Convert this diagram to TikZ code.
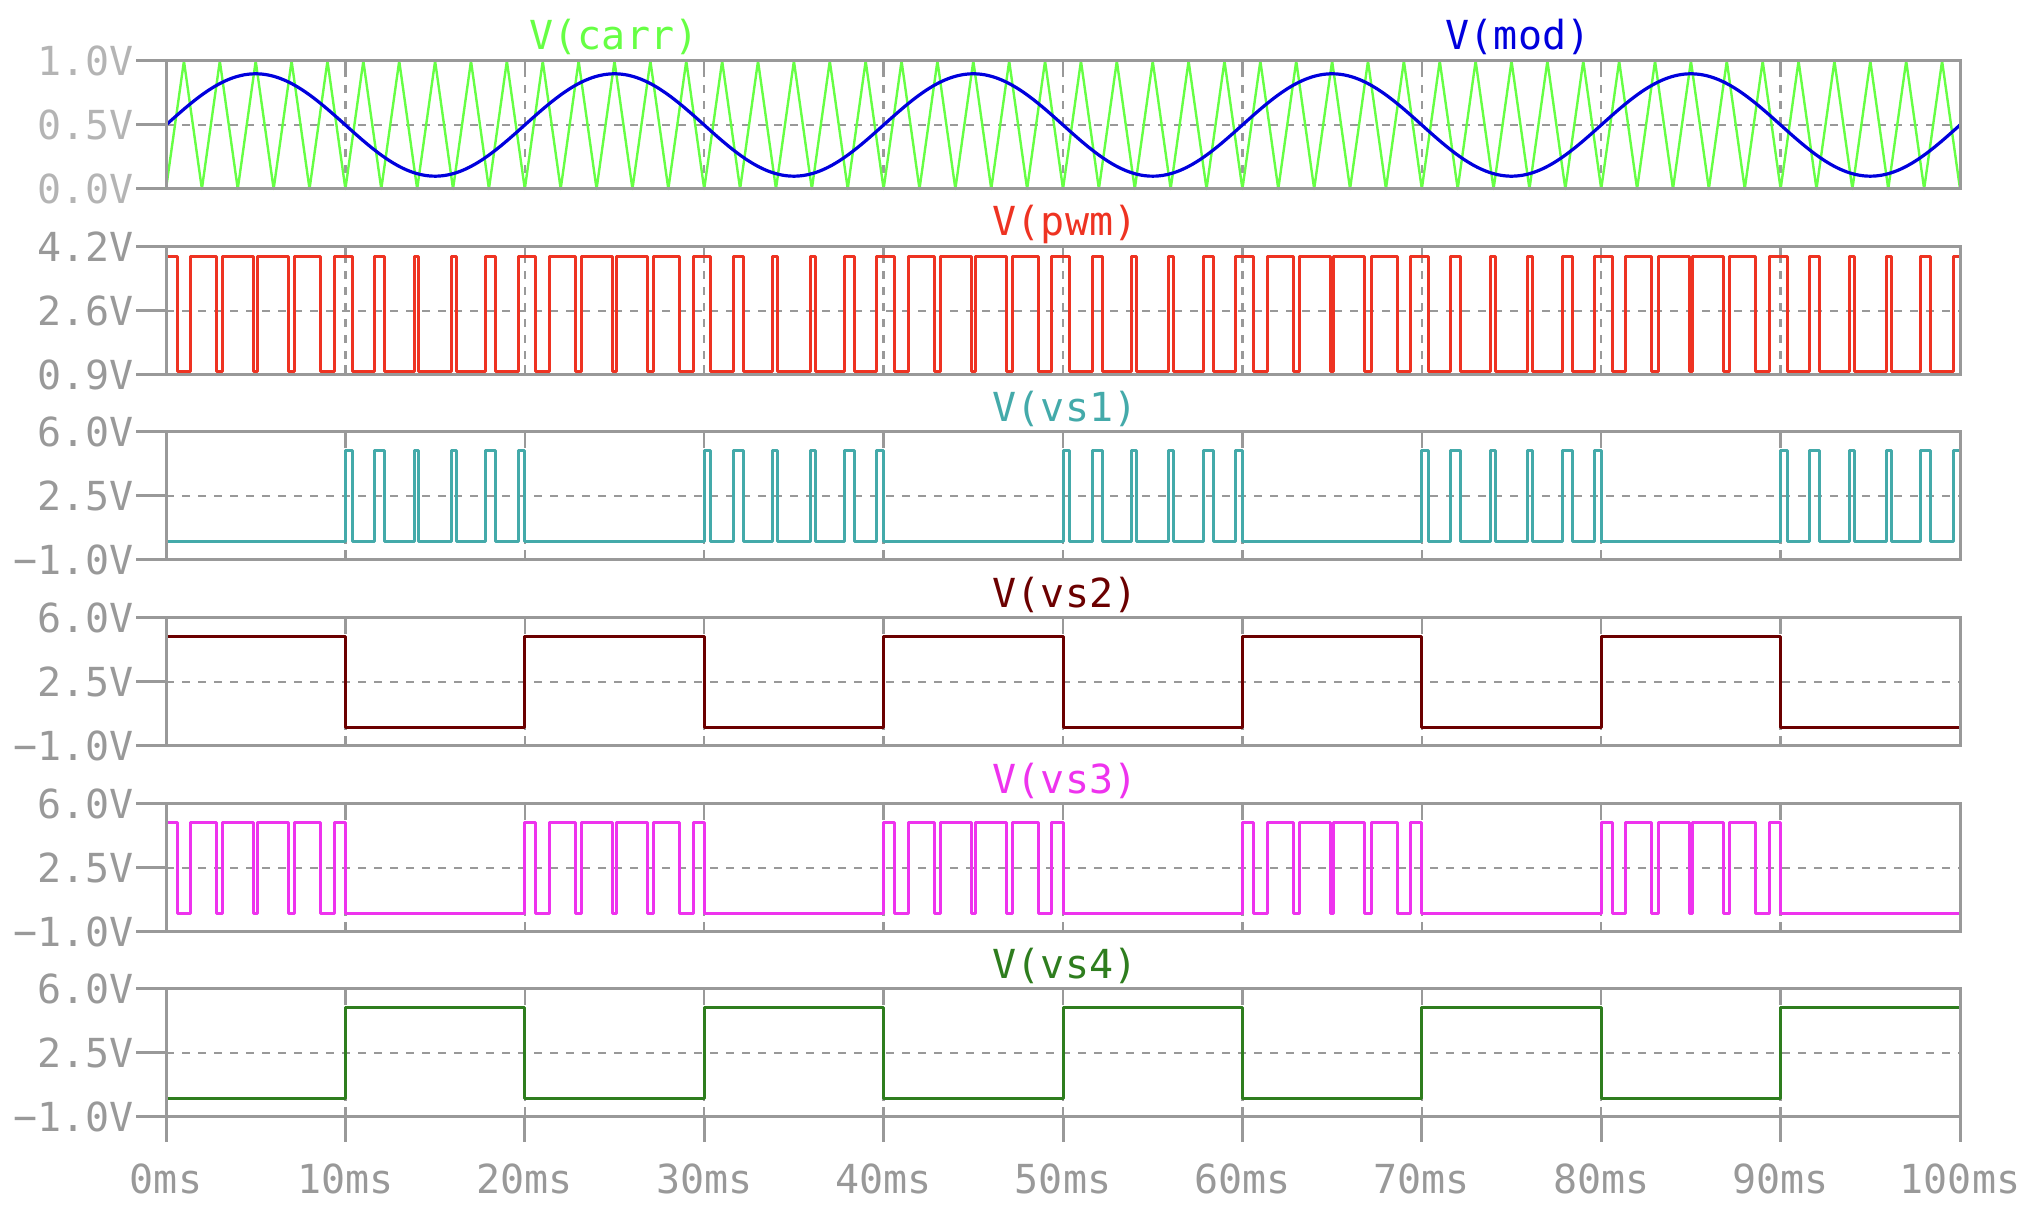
\documentclass[tikz,border=0pt]{standalone}
\usepackage{fontspec}
\setmonofont{DejaVu Sans Mono}
\definecolor{gr}{HTML}{999999}
\definecolor{grl}{HTML}{B4B4B4}
\definecolor{ccarr}{HTML}{66FF44}
\definecolor{cmod}{HTML}{0000DD}
\definecolor{cpwm}{HTML}{EE3322}
\definecolor{cvsa}{HTML}{44AAAA}
\definecolor{cvsb}{HTML}{6B0000}
\definecolor{cvsc}{HTML}{EE33EE}
\definecolor{cvsd}{HTML}{2E7D1E}
\tikzset{
  frame/.style={draw=gr,line width=3pt},
  grid/.style={draw=gr,line width=2.4pt,dash pattern=on 8pt off 8pt},
  lab/.style={font=\ttfamily\fontsize{40}{48}\selectfont,text=gr,inner sep=0pt},
  trace/.style={line width=3pt,line join=round}
}
\newcommand{\mm}[1]{(0.5+0.4*sin(18*(#1)))}
\begin{document}
\begin{tikzpicture}[x=1pt,y=1pt]
\useasboundingbox (0,0) rectangle (2036,1212);
\foreach \i/\tp/\la/\lb/\lc/\lcol in {1/61/1.0V/0.5V/0.0V/grl,2/247/4.2V/2.6V/0.9V/gr,3/432/6.0V/2.5V/−1.0V/gr,4/618/6.0V/2.5V/−1.0V/gr,5/804/6.0V/2.5V/−1.0V/gr,6/989/6.0V/2.5V/−1.0V/gr}{
  \pgfmathsetmacro\yt{1212-\tp}
  \pgfmathsetmacro\yb{1212-\tp-128}
  \pgfmathsetmacro\ym{1212-\tp-64}
  \coordinate (tl\i) at (166,\yt);
  \coordinate (br\i) at (1960,\yb);
  \coordinate (ml\i) at (166,\ym);
  \coordinate (mr\i) at (1960,\ym);
  \foreach \t in {1,...,9}{
    \draw[grid] (166+179.4*\t,\yb) -- (166+179.4*\t,\yt);
    \draw[draw=gr,line width=2.5pt] (166+179.4*\t,\yb) -- ++(0,10);
    \draw[draw=gr,line width=2.5pt] (166+179.4*\t,\yt) -- ++(0,-10);
  }
  \draw[grid] (ml\i) -- (mr\i);
  \draw[draw=gr,line width=3pt] (136,\yt) -- (166,\yt) (136,\ym) -- (166,\ym) (136,\yb) -- (166,\yb);
  \node[lab,anchor=east,text=\lcol] (ya\i) at (134,\yt) {\la};
  \node[lab,anchor=east,text=\lcol] (yb\i) at (134,\ym) {\lb};
  \node[lab,anchor=east,text=\lcol] (yc\i) at (134,\yb) {\lc};
}
\begin{scope}[shift={(166,1023)},xscale=17.94,yscale=128]
  \draw[trace,ccarr,line width=2.4pt] (0,0) \foreach \k in {0,...,49}{ -- (2*\k+1,1) -- (2*\k+2,0)};
  \draw[trace,cmod,line width=3.2pt] plot[domain=0:100,samples=300,smooth] (\x,{0.5+0.4*sin(18*\x)});
\end{scope}
\begin{scope}[shift={(166,837)},xscale=17.94,yscale=128/3.3]
  \draw[trace,cpwm] (0,3.06) \foreach \k in {0,...,49}{
     -- ({2*\k+\mm{2*\k+1}},3.06) -- ({2*\k+\mm{2*\k+1}},0.1) -- ({2*\k+2-\mm{2*\k+1}},0.1) -- ({2*\k+2-\mm{2*\k+1}},3.06)} -- (100,3.06);
\end{scope}
\begin{scope}[shift={(166,652)},xscale=17.94,yscale=128/7]
  \draw[trace,cvsa] (0,7) -- (0,1);
  \draw[trace,cvsa] (0,1) \foreach \d in {10,30,50,70,90}{ -- (\d,1) -- (\d,6)
     \foreach \k in {0,...,4}{ -- ({\d+2*\k+\mm{\d+2*\k+1}},6) -- ({\d+2*\k+\mm{\d+2*\k+1}},1) -- ({\d+2*\k+2-\mm{\d+2*\k+1}},1) -- ({\d+2*\k+2-\mm{\d+2*\k+1}},6)}
     -- (\d+10,6) -- (\d+10,1)} -- (100,1);
\end{scope}
\begin{scope}[shift={(166,466)},xscale=17.94,yscale=128/7]
  \draw[trace,cvsb] (0,1) -- (0,6) -- (10,6) -- (10,1) -- (20,1) -- (20,6) -- (30,6) -- (30,1) -- (40,1) -- (40,6) -- (50,6) -- (50,1) -- (60,1) -- (60,6) -- (70,6) -- (70,1) -- (80,1) -- (80,6) -- (90,6) -- (90,1) -- (100,1);
\end{scope}
\begin{scope}[shift={(166,280)},xscale=17.94,yscale=128/7]
  \draw[trace,cvsc] (0,6) \foreach \d in {0,20,40,60,80}{ -- (\d,1) -- (\d,6)
     \foreach \k in {0,...,4}{ -- ({\d+2*\k+\mm{\d+2*\k+1}},6) -- ({\d+2*\k+\mm{\d+2*\k+1}},1) -- ({\d+2*\k+2-\mm{\d+2*\k+1}},1) -- ({\d+2*\k+2-\mm{\d+2*\k+1}},6)}
     -- (\d+10,6) -- (\d+10,1) -- (\d+20,1)};
\end{scope}
\begin{scope}[shift={(166,95)},xscale=17.94,yscale=128/7]
  \draw[trace,cvsd] (0,6) -- (0,1) -- (10,1) -- (10,6) -- (20,6) -- (20,1) -- (30,1) -- (30,6) -- (40,6) -- (40,1) -- (50,1) -- (50,6) -- (60,6) -- (60,1) -- (70,1) -- (70,6) -- (80,6) -- (80,1) -- (90,1) -- (90,6) -- (100,6);
\end{scope}
\foreach \i in {1,...,6}{ \draw[frame] (tl\i) rectangle (br\i); }
\foreach \t/\l in {0/0ms,1/10ms,2/20ms,3/30ms,4/40ms,5/50ms,6/60ms,7/70ms,8/80ms,9/90ms,10/100ms}{
  \draw[draw=gr,line width=3pt] (166+179.4*\t,95) -- (166+179.4*\t,70);
  \node[lab] (x\t) at (166+179.4*\t,33) {\l};
}
\node[lab,text=ccarr] (tcarr) at (614,1175) {V(carr)};
\node[lab,text=cmod] (tmod) at (1518,1175) {V(mod)};
\node[lab,text=cpwm] (tpwm) at (1065,988) {V(pwm)};
\node[lab,text=cvsa] (tvsa) at (1065,803) {V(vs1)};
\node[lab,text=cvsb] (tvsb) at (1065,617) {V(vs2)};
\node[lab,text=cvsc] (tvsc) at (1065,431) {V(vs3)};
\node[lab,text=cvsd] (tvsd) at (1065,246) {V(vs4)};
\end{tikzpicture}
\end{document}
